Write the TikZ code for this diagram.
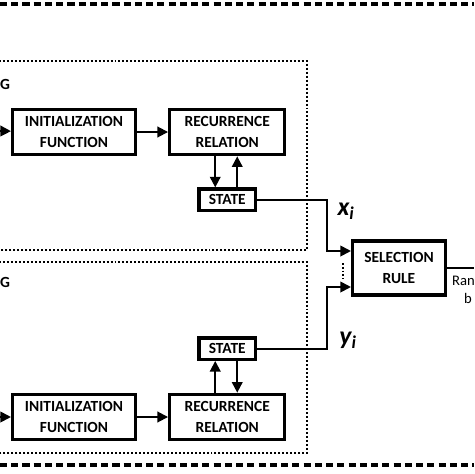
\documentclass[tikz,border=0pt]{standalone}
\usepackage{fontspec}
\setmainfont{Carlito}
\usetikzlibrary{arrows.meta,positioning}

\begin{document}
\begin{tikzpicture}[x=0.03cm,y=-0.03cm,
  box/.style={draw,line width=2.9pt,minimum width=3.68cm,minimum height=1.36cm,
    align=center,font=\fontsize{13.2}{18}\selectfont\bfseries},
  smallbox/.style={box,minimum width=1.7cm,minimum height=0.64cm},
  flow/.style={-{Triangle[length=9pt,width=9pt]},line width=1.6pt},
  wire/.style={line width=1.6pt},
  group/.style={line width=1.1pt,dash pattern=on 1.7pt off 1.7pt},
  sep/.style={line width=3.4pt,dash pattern=on 6pt off 3.6pt},
  var/.style={font=\fontsize{22}{22}\selectfont\bfseries\itshape}
]
\useasboundingbox (0,0) rectangle (474,474);

% separators and generator groups
\draw[sep] (0,4) -- (474,4);
\draw[sep] (0,465) -- (474,465);
\draw[group] (-5,61) -| (307,250) -- (-5,250);
\draw[group] (-5,262) -| (307,453) -- (-5,453);
\node[inner sep=0,anchor=west,font=\fontsize{13.2}{15}\selectfont\bfseries] (g1) at (0,84) {G};
\node[inner sep=0,anchor=west,font=\fontsize{13.2}{15}\selectfont\bfseries] (g2) at (0,282) {G};

% first generator
\node[box] (init1) at (74,132) {INITIALIZATION\\FUNCTION};
\node[box,right=0.93cm of init1,minimum width=3.45cm] (rec1) {RECURRENCE\\RELATION};
\node[smallbox,below=0.93cm of rec1] (st1) {STATE};

% second generator
\node[box] (init2) at (74,417) {INITIALIZATION\\FUNCTION};
\node[box,right=0.93cm of init2,minimum width=3.45cm] (rec2) {RECURRENCE\\RELATION};
\node[smallbox,above=0.95cm of rec2] (st2) {STATE};

% selection
\node[box,minimum width=2.78cm,minimum height=1.62cm] (sel) at (399,268) {SELECTION\\RULE};

\coordinate (in1) at (0,131);
\coordinate (in2) at (0,417);
\coordinate (xi) at (327,251);
\coordinate (yi) at (327,287);
\coordinate (out) at (474,268);

\draw[flow] (in1) -- (init1);
\draw[flow] (init1) -- (rec1);
\draw[flow] ([xshift=-0.36cm]rec1.south) -- ([xshift=-0.36cm]st1.north);
\draw[flow] ([xshift=0.3cm]st1.north) -- ([xshift=0.3cm]rec1.south);

\draw[flow] (in2) -- (init2);
\draw[flow] (init2) -- (rec2);
\draw[flow] ([xshift=-0.36cm]rec2.north) -- ([xshift=-0.36cm]st2.south);
\draw[flow] ([xshift=0.3cm]st2.south) -- ([xshift=0.3cm]rec2.north);

\draw[flow] (st1) -| (xi) -- (xi -| sel.west);
\draw[flow] (st2) -| (yi) -- (yi -| sel.west);
\draw[line width=1.6pt,dash pattern=on 1.6pt off 1.6pt] (343,263) -- (343,279);
\draw[wire] (sel) -- (out);

\node[var] (xl) at (346,211) {x\textsubscript{i}};
\node[var] (yl) at (348,340) {y\textsubscript{i}};
\node[anchor=west,inner sep=0,font=\fontsize{12.5}{15}\selectfont] (outa) at (452,281) {Ran};
\node[anchor=west,inner sep=0,font=\fontsize{12.5}{15}\selectfont] (outb) at (464,298) {b};
\end{tikzpicture}
\end{document}
